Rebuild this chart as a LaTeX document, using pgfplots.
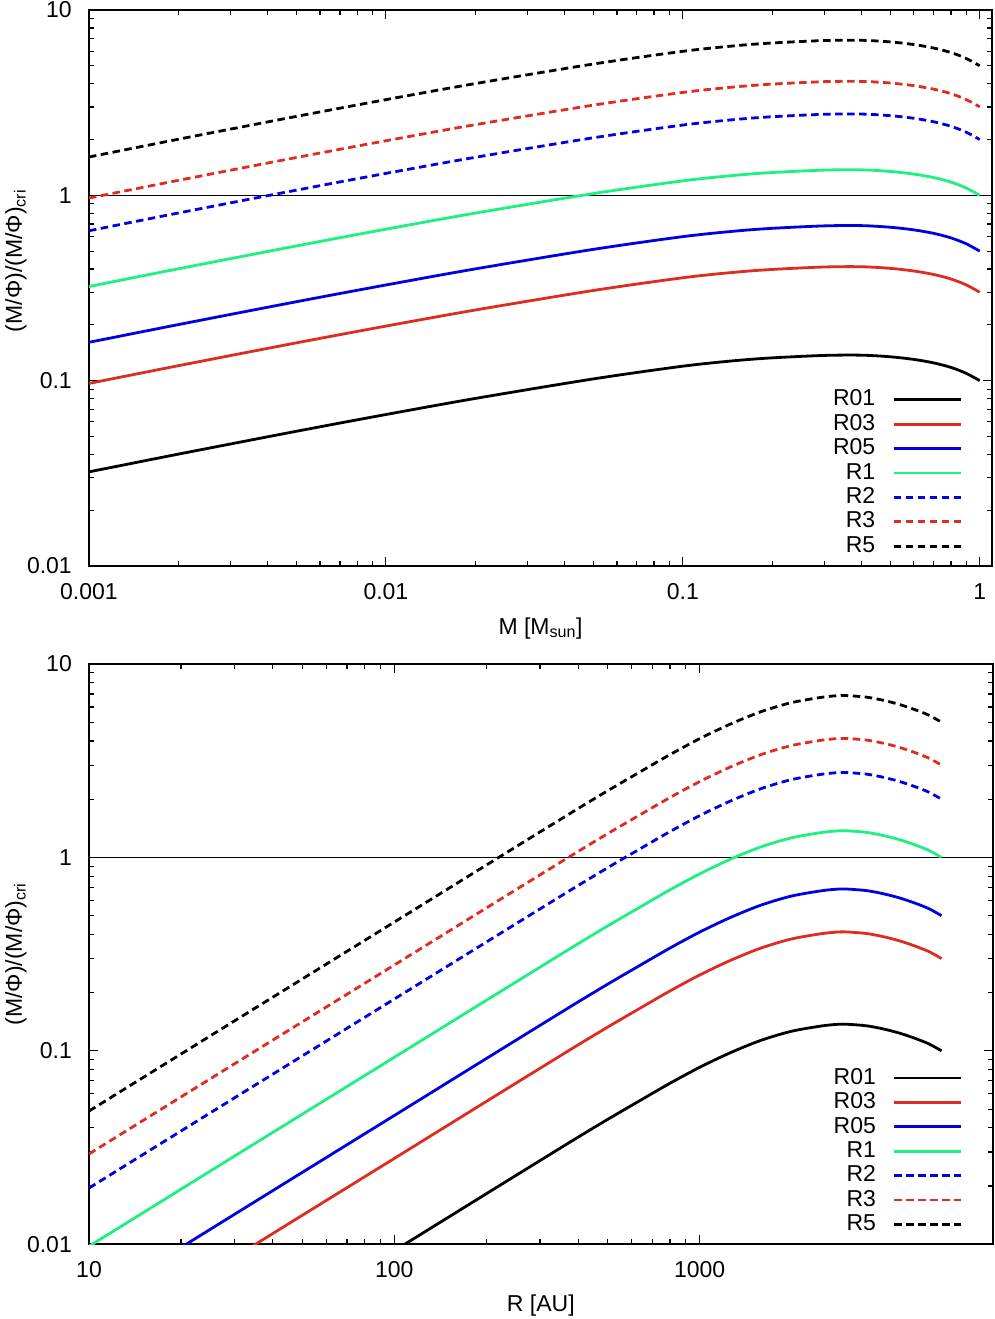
\documentclass[border=0pt]{standalone}
\usepackage{fontspec}
\setmainfont{Liberation Sans}
\usepackage{pgfplots}
\usepackage{pgfplotstable}
\pgfplotsset{compat=1.18}

\definecolor{cred}{RGB}{221,45,32}
\definecolor{cblue}{RGB}{0,0,225}
\definecolor{cgreen}{RGB}{30,240,130}

\pgfplotstableread{
M R01 R03 R05 R1 R2 R3 R5
0.001 0.032211 0.096633 0.161055 0.32211 0.64422 0.96633 1.61055
0.002 0.040151 0.120453 0.200755 0.40151 0.80302 1.20453 2.00755
0.005 0.053345 0.160035 0.266725 0.53345 1.06690 1.60035 2.66725
0.01 0.065675 0.197025 0.328375 0.65675 1.31350 1.97025 3.28375
0.02 0.080186 0.240558 0.400930 0.80186 1.60372 2.40558 4.00930
0.05 0.102235 0.306705 0.511175 1.02235 2.04470 3.06705 5.11175
0.1 0.119728 0.359184 0.598640 1.19728 2.39456 3.59184 5.98640
0.15 0.128263 0.384789 0.641315 1.28263 2.56526 3.84789 6.41315
0.2 0.132771 0.398313 0.663855 1.32771 2.65542 3.98313 6.63855
0.3 0.136870 0.410610 0.684350 1.36870 2.73740 4.10610 6.84350
0.4 0.137281 0.411843 0.686405 1.37281 2.74562 4.11843 6.86405
0.5 0.134556 0.403668 0.672780 1.34556 2.69112 4.03668 6.72780
0.6 0.130227 0.390681 0.651135 1.30227 2.60454 3.90681 6.51135
0.7 0.124710 0.374130 0.623550 1.24710 2.49420 3.74130 6.23550
0.8 0.117897 0.353691 0.589485 1.17897 2.35794 3.53691 5.89485
0.9 0.109622 0.328866 0.548110 1.09622 2.19244 3.28866 5.48110
1.0 0.1 0.3 0.5 1.0 2.0 3.0 5.0
}\topdata

\pgfplotstableread{
R R01 R03 R05 R1 R2 R3 R5
10 0.000977 0.002932 0.004886 0.009772 0.019544 0.029316 0.04886
31.62 0.003013 0.009039 0.015065 0.030130 0.06026 0.09039 0.15065
100 0.009268 0.027805 0.046342 0.092683 0.185366 0.278049 0.463415
199.5 0.018197 0.054591 0.090985 0.181970 0.36394 0.54591 0.90985
316.2 0.028510 0.085531 0.142551 0.285102 0.570204 0.855306 1.42551
398.1 0.035645 0.106935 0.178226 0.356451 0.712902 1.069353 1.782255
501.2 0.044361 0.133083 0.221805 0.443609 0.887218 1.330827 2.218045
631.0 0.054828 0.164483 0.274139 0.548277 1.096554 1.644831 2.741385
794.3 0.067608 0.202825 0.338042 0.676083 1.352166 2.028249 3.380415
1000 0.082224 0.246673 0.411122 0.822243 1.644486 2.466729 4.111215
1258.9 0.097724 0.293171 0.488619 0.977237 1.954474 2.931711 4.886185
1584.9 0.113240 0.339720 0.566200 1.132400 2.26480 3.39720 5.66200
1995.3 0.126192 0.378575 0.630958 1.261915 2.52383 3.785745 6.309575
2511.9 0.134586 0.403758 0.672930 1.345860 2.69172 4.03758 6.72930
2884.0 0.137404 0.412212 0.687021 1.374041 2.748082 4.122123 6.870205
3162.3 0.136773 0.410319 0.683865 1.367729 2.735458 4.103187 6.838645
3548.1 0.134586 0.403758 0.672930 1.345860 2.69172 4.03758 6.72930
3981.1 0.130017 0.390051 0.650085 1.300170 2.60034 3.90051 6.50085
4466.8 0.124165 0.372496 0.620826 1.241652 2.483304 3.724956 6.20826
5011.9 0.116950 0.350850 0.584750 1.169499 2.338998 3.508497 5.847495
5623.4 0.108893 0.326679 0.544465 1.088930 2.17786 3.26679 5.44465
6200 0.1 0.3 0.5 1.0 2.0 3.0 5.0
}\botdata

\newcommand{\fs}{\fontsize{23}{23}\selectfont}

\pgfplotsset{
  mycommon/.style={
    scale only axis,
    ymin=0.01, ymax=10,
    ytick={0.01,0.1,1,10},
    yticklabels={0.01,0.1,1,10},
    tick align=inside,
    tick pos=both,
    major tick length=9pt,
    minor tick length=5pt,
    every tick/.style={black, line width=1.2pt},
    axis line style={line width=1.8pt},
    ticklabel style={font=\fs},
    xticklabel style={anchor=north, inner sep=0pt, yshift=-17pt},
    yticklabel style={anchor=east, inner sep=0pt, xshift=-17pt},
    label style={font=\fs},
    legend cell align=right,
    legend plot pos=right,
    legend image code/.code={\draw[##1] (0pt,0pt) -- (67pt,0pt);},
    legend style={draw=none, fill=none, anchor=north east, inner sep=0pt, outer sep=0pt,
      row sep=3.9pt, font=\fs,
      nodes={inner sep=0pt, text height=16.5pt, text depth=4pt},
      /tikz/every odd column/.append style={column sep=17pt}},
  },
  sol/.style={line width=2.8pt, smooth, tension=0.5},
  das/.style={line width=2.8pt, smooth, tension=0.5, dash pattern=on 7.5pt off 4.5pt},
}

\begin{document}
\begin{tikzpicture}
\path[use as bounding box] (0pt,0pt) rectangle (994pt,-1319pt);

\begin{loglogaxis}[mycommon,
  at={(89pt,-10pt)}, anchor=north west,
  width=903pt, height=556pt,
  xmin=0.001, xmax=1.1,
  xtick={0.001,0.01,0.1,1},
  xticklabels={0.001,0.01,0.1,1},
  xlabel={M [M\textsubscript{sun}]},
  xlabel style={at={(axis description cs:0.5,-0.1223)}, anchor=base},
  ylabel={(M/Φ)/(M/Φ)\textsubscript{cri}},
  ylabel style={at={(axis description cs:-0.0808,0.5486)}, anchor=center},
  legend style={at={(axis description cs:0.9668,0.3175)}},
]
\addplot[black, line width=1.2pt, forget plot] coordinates {(0.001,1) (1.1,1)};
\addplot[black, sol] table[x=M, y=R01] {\topdata};
\addlegendentry{R01}
\addplot[cred, sol] table[x=M, y=R03] {\topdata};
\addlegendentry{R03}
\addplot[cblue, sol] table[x=M, y=R05] {\topdata};
\addlegendentry{R05}
\addplot[cgreen, sol] table[x=M, y=R1] {\topdata};
\addlegendentry{R1}
\addplot[cblue, das] table[x=M, y=R2] {\topdata};
\addlegendentry{R2}
\addplot[cred, das] table[x=M, y=R3] {\topdata};
\addlegendentry{R3}
\addplot[black, das] table[x=M, y=R5] {\topdata};
\addlegendentry{R5}
\end{loglogaxis}

\begin{loglogaxis}[mycommon,
  at={(89pt,-664pt)}, anchor=north west,
  width=903.7pt, height=580.3pt,
  xmin=10, xmax=9120,
  xtick={10,100,1000},
  xticklabels={10,100,1000},
  xlabel={R [AU]},
  xlabel style={at={(axis description cs:0.5,-0.115)}, anchor=base},
  ylabel={(M/Φ)/(M/Φ)\textsubscript{cri}},
  ylabel style={at={(axis description cs:-0.0808,0.5)}, anchor=center},
  legend style={at={(axis description cs:0.9668,0.3042)}},
]
\addplot[black, line width=1.2pt, forget plot] coordinates {(10,1) (9120,1)};
\addplot[black, sol] table[x=R, y=R01] {\botdata};
\addlegendentry{R01}
\addplot[cred, sol] table[x=R, y=R03] {\botdata};
\addlegendentry{R03}
\addplot[cblue, sol] table[x=R, y=R05] {\botdata};
\addlegendentry{R05}
\addplot[cgreen, sol] table[x=R, y=R1] {\botdata};
\addlegendentry{R1}
\addplot[cblue, das] table[x=R, y=R2] {\botdata};
\addlegendentry{R2}
\addplot[cred, das] table[x=R, y=R3] {\botdata};
\addlegendentry{R3}
\addplot[black, das] table[x=R, y=R5] {\botdata};
\addlegendentry{R5}
\end{loglogaxis}
\end{tikzpicture}
\end{document}
